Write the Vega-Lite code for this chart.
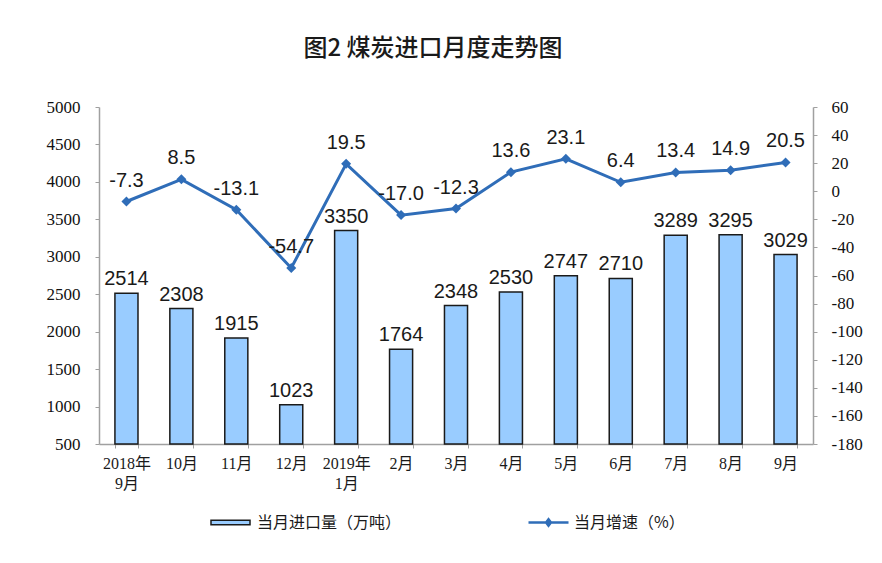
{
  "$schema": "https://vega.github.io/schema/vega-lite/v6.json",
  "autosize": "none",
  "width": 714,
  "height": 337,
  "padding": {"left": 99, "top": 107, "right": 69, "bottom": 119},
  "background": "white",
  "title": {
    "text": "图2 煤炭进口月度走势图",
    "font": "Noto Sans CJK SC",
    "fontSize": 24,
    "fontWeight": 500,
    "color": "#1a1a1a",
    "anchor": "middle",
    "dx": -23,
    "offset": 37
  },
  "data": {
    "values": [
      {"month": "2018年 9月", "imports": 2514, "growth": -7.3},
      {"month": "10月", "imports": 2308, "growth": 8.5},
      {"month": "11月", "imports": 1915, "growth": -13.1},
      {"month": "12月", "imports": 1023, "growth": -54.7},
      {"month": "2019年 1月", "imports": 3350, "growth": 19.5},
      {"month": "2月", "imports": 1764, "growth": -17.0},
      {"month": "3月", "imports": 2348, "growth": -12.3},
      {"month": "4月", "imports": 2530, "growth": 13.6},
      {"month": "5月", "imports": 2747, "growth": 23.1},
      {"month": "6月", "imports": 2710, "growth": 6.4},
      {"month": "7月", "imports": 3289, "growth": 13.4},
      {"month": "8月", "imports": 3295, "growth": 14.9},
      {"month": "9月", "imports": 3029, "growth": 20.5}
    ]
  },
  "encoding": {
    "x": {
      "field": "month",
      "type": "nominal",
      "sort": null,
      "scale": {"paddingInner": 0.58, "paddingOuter": 0.29},
      "axis": {
        "title": null,
        "labelAngle": 0,
        "labelExpr": "split(datum.label, ' ')",
        "labelFont": "Liberation Serif, Noto Sans CJK SC",
        "labelFontSize": 16,
        "labelColor": "#1a1a1a",
        "labelLineHeight": 20,
        "labelPadding": 7,
        "labelBaseline": "top",
        "domainColor": "#a0a0a0",
        "domainWidth": 1.5,
        "tickColor": "#a0a0a0",
        "tickBand": "extent",
        "tickSize": 4,
        "grid": false
      }
    }
  },
  "layer": [
    {
      "encoding": {
        "y": {
          "field": "imports",
          "type": "quantitative",
          "scale": {"domain": [500, 5000], "nice": false, "zero": false},
          "axis": {
            "orient": "left",
            "title": null,
            "values": [500, 1000, 1500, 2000, 2500, 3000, 3500, 4000, 4500, 5000],
            "labelFont": "Liberation Serif",
            "labelFontSize": 17,
            "labelColor": "#111111",
            "labelPadding": 15,
            "domainColor": "#a0a0a0",
            "domainWidth": 1.5,
            "tickColor": "#a0a0a0",
            "tickSize": 4,
            "grid": false
          }
        }
      },
      "layer": [
        {
          "mark": {"type": "bar", "stroke": "#1a1a1a", "strokeWidth": 1.5},
          "encoding": {
            "y2": {"datum": 500},
            "fill": {
              "datum": "当月进口量（万吨）",
              "type": "nominal",
              "scale": {"range": ["#99CCFF"]},
              "legend": {
                "orient": "none",
                "legendX": 111,
                "legendY": 395,
                "title": null,
                "padding": 0,
                "symbolType": "M-1,-0.11H1V0.11H-1Z",
                "symbolSize": 1521,
                "symbolStrokeColor": "#1a1a1a",
                "symbolStrokeWidth": 1.5,
                "labelFont": "Noto Sans CJK SC",
                "labelFontSize": 16,
                "labelColor": "#1a1a1a",
                "labelOffset": 6
              }
            }
          }
        },
        {
          "mark": {
            "type": "text",
            "baseline": "alphabetic",
            "dy": -8,
            "font": "Liberation Sans",
            "fontSize": 20,
            "color": "#1a1a1a"
          },
          "encoding": {"text": {"field": "imports", "type": "quantitative", "format": "d"}}
        }
      ]
    },
    {
      "encoding": {
        "y": {
          "field": "growth",
          "type": "quantitative",
          "scale": {"domain": [-180, 60], "nice": false, "zero": false},
          "axis": {
            "orient": "right",
            "title": null,
            "values": [-180, -160, -140, -120, -100, -80, -60, -40, -20, 0, 20, 40, 60],
            "labelFont": "Liberation Serif",
            "labelFontSize": 17,
            "labelColor": "#111111",
            "labelPadding": 14,
            "domainColor": "#a0a0a0",
            "domainWidth": 1.5,
            "tickColor": "#a0a0a0",
            "tickSize": 4,
            "grid": false
          }
        }
      },
      "layer": [
        {
          "mark": {"type": "line", "strokeWidth": 3},
          "encoding": {
            "stroke": {
              "datum": "当月增速（%）",
              "type": "nominal",
              "scale": {"range": ["#2f6db8"]},
              "legend": {
                "orient": "none",
                "legendX": 428,
                "legendY": 394,
                "title": null,
                "padding": 0,
                "symbolType": "M-1,0H1M0,-0.16L0.12,0L0,0.16L-0.12,0Z",
                "symbolSize": 1600,
                "symbolStrokeWidth": 2.5,
                "labelFont": "Noto Sans CJK SC",
                "labelFontSize": 16,
                "labelColor": "#1a1a1a",
                "labelOffset": 4,
                "encode": {
                  "symbols": {"update": {"fill": {"value": "#2f6db8"}, "stroke": {"value": "#2f6db8"}}}
                }
              }
            }
          }
        },
        {
          "mark": {"type": "point", "shape": "diamond", "filled": true, "size": 100, "color": "#2f6db8", "opacity": 1}
        },
        {
          "mark": {
            "type": "text",
            "baseline": "alphabetic",
            "dy": -15,
            "font": "Liberation Sans",
            "fontSize": 20,
            "color": "#1a1a1a"
          },
          "encoding": {"text": {"field": "growth", "type": "quantitative", "format": ".1f"}}
        }
      ]
    }
  ],
  "resolve": {"scale": {"y": "independent"}},
  "config": {
    "view": {"stroke": null},
    "locale": {
      "number": {"decimal": ".", "thousands": "", "grouping": [3], "currency": ["", ""], "minus": "-"}
    }
  }
}
